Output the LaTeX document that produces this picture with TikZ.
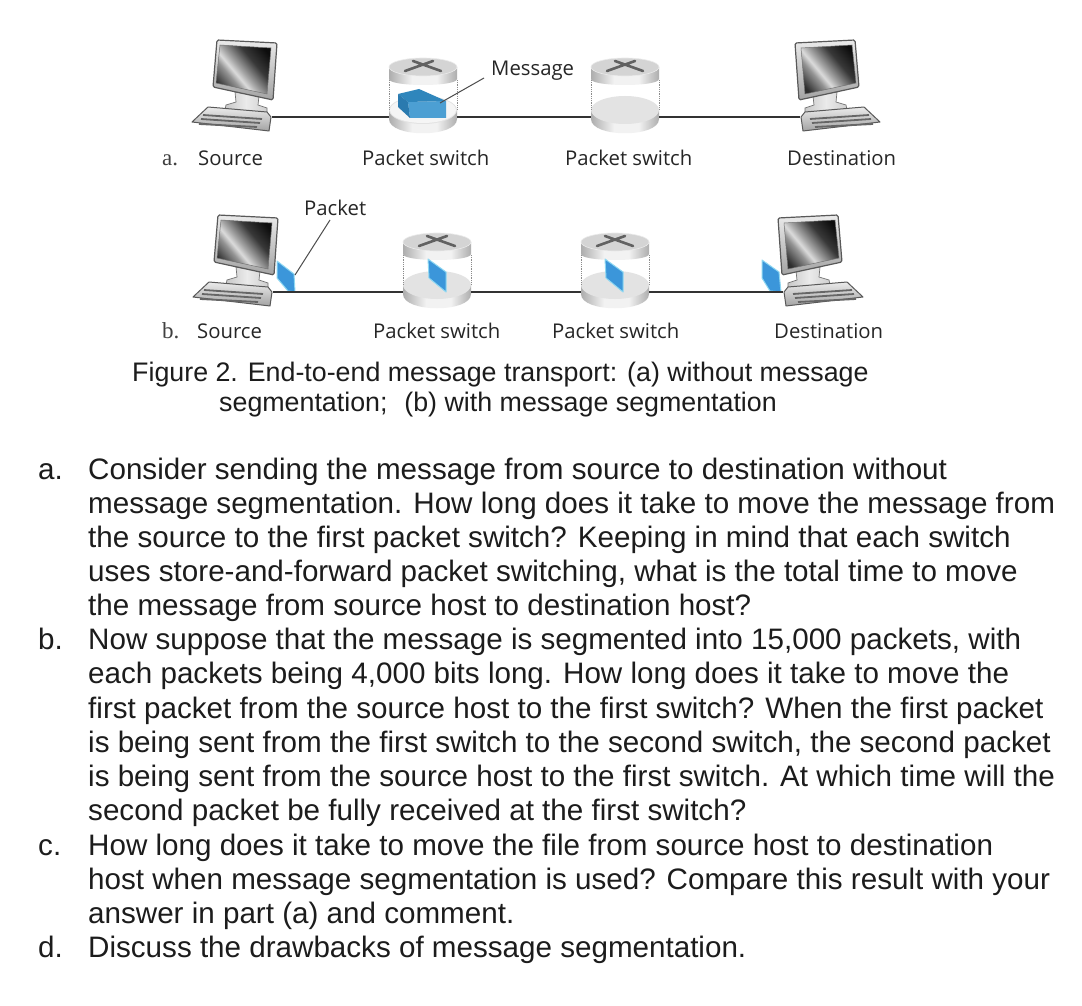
\documentclass[tikz,border=0pt]{standalone}
\usepackage{fontspec}
\setmainfont{Liberation Sans}
\newfontfamily\labelfont{Open Sans}
\newfontfamily\markfont{Liberation Serif}
\definecolor{boxtop}{HTML}{2F86BC}
\definecolor{boxleft}{HTML}{2A7AAF}
\definecolor{boxfront}{HTML}{4C9FD3}
\definecolor{pktblue}{HTML}{3B96DA}
\definecolor{pktedge}{HTML}{8FD8F2}
\definecolor{wire}{HTML}{333333}
\definecolor{inktext}{HTML}{1C1C1C}
\pgfdeclarehorizontalshading{screenglass}{100bp}{
  color(0bp)=(black!95); color(22bp)=(black!95); color(38bp)=(black!78); color(52bp)=(black!35); color(58bp)=(black!14); color(64bp)=(black!42); color(78bp)=(black!82); color(100bp)=(black!85)}
\pgfdeclarehorizontalshading{cylband}{100bp}{
  color(0bp)=(black!45); color(25bp)=(black!32); color(42bp)=(black!5); color(60bp)=(black!5); color(75bp)=(black!32); color(100bp)=(black!45)}
\pgfdeclareverticalshading{framefill}{100bp}{
  color(0bp)=(black!40); color(25bp)=(black!36); color(75bp)=(black!8); color(100bp)=(black!6)}
\pgfdeclarehorizontalshading{standfill}{100bp}{
  color(0bp)=(black!35); color(50bp)=(black!8); color(100bp)=(black!30)}
\tikzset{
  lbl/.style={font=\labelfont\fontsize{20.3}{24}\selectfont,text=black!85,anchor=base west,inner sep=0pt},
  mrk/.style={font=\markfont\fontsize{23}{26}\selectfont,text=black!75,anchor=base west,inner sep=0pt},
  body/.style={font=\fontsize{29.6}{34}\selectfont,text=inktext,anchor=base west,inner sep=0pt},
  capt/.style={font=\fontsize{26.8}{32}\selectfont,text=inktext,anchor=base west,inner sep=0pt},
  wireline/.style={draw=wire,line width=2pt},
  leader/.style={draw=black!70,line width=1pt},
  packetshape/.style={fill=pktblue,draw=pktedge,line width=1pt,line join=round},
  computer/.pic={
    % stand
    \shade[shading=standfill,draw=black!55,line width=0.7pt]
      (18,52) -- (42,56) -- (41,65) -- (50,68) -- (50,73) -- (8,70) -- (9,65) -- (19,62) -- cycle;
    % monitor
    \shade[shading=framefill,draw=black!65,line width=1.2pt,rounded corners=1.5pt]
      (0,0) -- (60,3) -- (56,60) -- (-4,47) -- cycle;
    \shade[shading=screenglass,shading angle=220]
      (3,5) -- (54,8) -- (50,54) -- (-1,43) -- cycle;
    \draw[black!55,line width=0.5pt] (3,5) -- (54,8) -- (50,54) -- (-1,43) -- cycle;
    % keyboard
    \shade[shading=framefill,draw=black!65,line width=1pt,line join=round]
      (-25,82) -- (-9,67) -- (50,72) -- (54,77) -- (52,91) -- cycle;
    \draw[black!60,line width=1.8pt]
      (-14,75) -- (45,79) (-16,79) -- (43,83) (-18,84) -- (40,87);
    \coordinate (-port) at (55,77);
  },
  switchbox/.pic={
    % base
    \shade[shading=cylband]
      (-34,43) -- (-34,52) .. controls (-34,71) and (34,71) .. (34,52) -- (34,43) -- cycle;
    \fill[black!11] (0,43) ellipse [x radius=34,y radius=14];
    % dotted sides
    \draw[black!45,line width=0.8pt,densely dotted] (-34,13) -- (-34,43) (34,13) -- (34,43);
    % top band
    \shade[shading=cylband]
      (-34,0) -- (-34,12) .. controls (-34,20) and (34,20) .. (34,12) -- (34,0) -- cycle;
    \fill[black!17] (0,0) ellipse [x radius=34,y radius=9];
    \draw[black!8,line width=0.6pt] (0,0) ellipse [x radius=34,y radius=9];
    % crossbar mark
    \draw[black!62,line width=2.6pt,line cap=round] (-18,4) -- (10,-6) (-10,-6) -- (18,4);
    \coordinate (-west) at (-34,50);
    \coordinate (-east) at (34,50);
  }
}
\begin{document}
\begin{tikzpicture}[x=1pt,y=-1pt]
\useasboundingbox (0,0) rectangle (1082,1006);
\fill[white] (0,0) rectangle (1082,1006);

% part a
\pic (srcA) at (217,40) {computer};
\pic (swA) at (423,67) {switchbox};
\pic (swB) at (625,67) {switchbox};
\pic[xscale=-1] (dstA) at (855,40) {computer};
\draw[wireline] (srcA-port) -- (swA-west);
\draw[wireline] (swA-east) -- (swB-west);
\draw[wireline] (swB-east) -- (dstA-port);

\fill[black!4] (423,110) ellipse [x radius=33,y radius=13];
\fill[boxfront] (408,102) -- (446,101) -- (446,118) -- (410,118) -- cycle;
\fill[boxtop] (398,94) -- (419,89) -- (446,101) -- (408,102) -- cycle;
\fill[boxleft] (398,94) -- (408,102) -- (410,118) -- (398,107) -- cycle;

\node[lbl] (msg) at (491,76) {Message};
\coordinate (msgend) at (440,103);
\coordinate (msgstart) at (484,78);
\draw[leader] (msgstart) -- (msgend);

\node[mrk] (ma) at (162,165) {a.};
\node[lbl] (la1) at (198,165) {Source};
\node[lbl] (la2) at (362,165) {Packet switch};
\node[lbl] (la3) at (565,165) {Packet switch};
\node[lbl] (la4) at (787,165) {Destination};

% part b
\pic (srcB) at (218,215) {computer};
\pic (swC) at (437,242) {switchbox};
\pic (swD) at (615,242) {switchbox};
\pic[xscale=-1] (dstB) at (838,215) {computer};

\path[packetshape] (277,261) -- (294,274) -- (295,292) -- (288,291) -- (277,278) -- cycle;
\path[packetshape] (428,259) -- (446,272) -- (446,292) -- (429,278) -- cycle;
\path[packetshape] (605,259) -- (623,272) -- (623,292) -- (606,278) -- cycle;
\path[packetshape] (762,260) -- (779,272) -- (781,292) -- (770,291) -- (762,278) -- cycle;

\draw[wireline] (srcB-port) -- (swC-west);
\draw[wireline] (swC-east) -- (swD-west);
\draw[wireline] (swD-east) -- (dstB-port);

\node[lbl] (pkt) at (304,215) {Packet};
\coordinate (pktstart) at (330,220);
\coordinate (pktend) at (295,275);
\draw[leader] (pktstart) -- (pktend);

\node[mrk] (mb) at (162,338) {b.};
\node[lbl] (lb1) at (197,338) {Source};
\node[lbl] (lb2) at (373,338) {Packet switch};
\node[lbl] (lb3) at (552,338) {Packet switch};
\node[lbl] (lb4) at (774,338) {Destination};

% caption
\node[capt] (c1) at (132,381) {Figure 2. End-to-end message transport: (a) without message};
\node[capt] (c2) at (219,411) {segmentation;\ \ \kern2pt(b) with message segmentation};

% questions
\node[body] (qa) at (38,479) {a.};
\node[body] (t1) at (88,479) {Consider sending the message from source to destination without};
\node[body] (t2) at (88,513) {message segmentation. How long does it take to move the message from};
\node[body] (t3) at (88,547) {the source to the first packet switch? Keeping in mind that each switch};
\node[body] (t4) at (88,581) {uses store-and-forward packet switching, what is the total time to move};
\node[body] (t5) at (88,615) {the message from source host to destination host?};
\node[body] (qb) at (38,649) {b.};
\node[body] (t6) at (88,649) {Now suppose that the message is segmented into 15,000 packets, with};
\node[body] (t7) at (88,683) {each packets being 4,000 bits long. How long does it take to move the};
\node[body] (t8) at (88,718) {first packet from the source host to the first switch? When the first packet};
\node[body] (t9) at (88,752) {is being sent from the first switch to the second switch, the second packet};
\node[body] (t10) at (88,786) {is being sent from the source host to the first switch. At which time will the};
\node[body] (t11) at (88,820) {second packet be fully received at the first switch?};
\node[body] (qc) at (38,855) {c.};
\node[body] (t12) at (88,855) {How long does it take to move the file from source host to destination};
\node[body] (t13) at (88,889) {host when message segmentation is used? Compare this result with your};
\node[body] (t14) at (88,923) {answer in part (a) and comment.};
\node[body] (qd) at (38,957) {d.};
\node[body] (t15) at (88,957) {Discuss the drawbacks of message segmentation.};
\end{tikzpicture}
\end{document}
